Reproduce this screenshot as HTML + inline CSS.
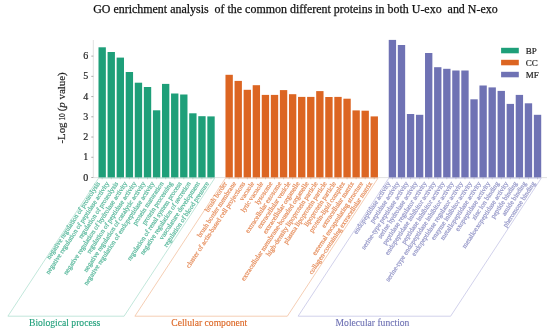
<!DOCTYPE html>
<html><head><meta charset="utf-8"><style>
html,body{margin:0;padding:0;background:#fff;}
body{width:550px;height:333px;overflow:hidden;font-family:"Liberation Serif", serif;}
svg{display:block;will-change:transform;}
</style></head><body>
<svg width="550" height="333" viewBox="0 0 550 333" font-family="Liberation Serif, serif">
<rect width="550" height="333" fill="#fff"/>
<text x="93.2" y="13.3" font-size="12.4" textLength="404.5" lengthAdjust="spacingAndGlyphs" fill="#111" stroke="#111" stroke-width="0.25">GO enrichment analysis&#160; of the common different proteins in both U-exo&#160; and N-exo</text>
<text transform="translate(64.9 143.6) rotate(-90)" font-size="10.9" fill="#222" stroke="#222" stroke-width="0.2">-Log<tspan font-size="7.4">&#160;10&#160;</tspan>(<tspan font-style="italic">p</tspan> value)</text>
<line x1="93.3" y1="40" x2="93.3" y2="177.6" stroke="#d9d9d9" stroke-width="0.8"/>
<line x1="93.3" y1="177.6" x2="547" y2="177.6" stroke="#d9d9d9" stroke-width="0.8"/>
<line x1="91.3" y1="177.50" x2="93.3" y2="177.50" stroke="#8c8c8c" stroke-width="0.7"/>
<text x="88.2" y="180.50" text-anchor="end" font-size="10" fill="#262626" stroke="#262626" stroke-width="0.2">0</text>
<line x1="91.3" y1="157.27" x2="93.3" y2="157.27" stroke="#8c8c8c" stroke-width="0.7"/>
<text x="88.2" y="160.27" text-anchor="end" font-size="10" fill="#262626" stroke="#262626" stroke-width="0.2">1</text>
<line x1="91.3" y1="137.04" x2="93.3" y2="137.04" stroke="#8c8c8c" stroke-width="0.7"/>
<text x="88.2" y="140.04" text-anchor="end" font-size="10" fill="#262626" stroke="#262626" stroke-width="0.2">2</text>
<line x1="91.3" y1="116.81" x2="93.3" y2="116.81" stroke="#8c8c8c" stroke-width="0.7"/>
<text x="88.2" y="119.81" text-anchor="end" font-size="10" fill="#262626" stroke="#262626" stroke-width="0.2">3</text>
<line x1="91.3" y1="96.58" x2="93.3" y2="96.58" stroke="#8c8c8c" stroke-width="0.7"/>
<text x="88.2" y="99.58" text-anchor="end" font-size="10" fill="#262626" stroke="#262626" stroke-width="0.2">4</text>
<line x1="91.3" y1="76.35" x2="93.3" y2="76.35" stroke="#8c8c8c" stroke-width="0.7"/>
<text x="88.2" y="79.35" text-anchor="end" font-size="10" fill="#262626" stroke="#262626" stroke-width="0.2">5</text>
<line x1="91.3" y1="56.12" x2="93.3" y2="56.12" stroke="#8c8c8c" stroke-width="0.7"/>
<text x="88.2" y="59.12" text-anchor="end" font-size="10" fill="#262626" stroke="#262626" stroke-width="0.2">6</text>
<line x1="102.17" y1="177.6" x2="102.17" y2="179.20" stroke="#8c8c8c" stroke-width="0.6"/>
<line x1="111.24" y1="177.6" x2="111.24" y2="179.20" stroke="#8c8c8c" stroke-width="0.6"/>
<line x1="120.31" y1="177.6" x2="120.31" y2="179.20" stroke="#8c8c8c" stroke-width="0.6"/>
<line x1="129.39" y1="177.6" x2="129.39" y2="179.20" stroke="#8c8c8c" stroke-width="0.6"/>
<line x1="138.46" y1="177.6" x2="138.46" y2="179.20" stroke="#8c8c8c" stroke-width="0.6"/>
<line x1="147.53" y1="177.6" x2="147.53" y2="179.20" stroke="#8c8c8c" stroke-width="0.6"/>
<line x1="156.60" y1="177.6" x2="156.60" y2="179.20" stroke="#8c8c8c" stroke-width="0.6"/>
<line x1="165.67" y1="177.6" x2="165.67" y2="179.20" stroke="#8c8c8c" stroke-width="0.6"/>
<line x1="174.74" y1="177.6" x2="174.74" y2="179.20" stroke="#8c8c8c" stroke-width="0.6"/>
<line x1="183.81" y1="177.6" x2="183.81" y2="179.20" stroke="#8c8c8c" stroke-width="0.6"/>
<line x1="192.88" y1="177.6" x2="192.88" y2="179.20" stroke="#8c8c8c" stroke-width="0.6"/>
<line x1="201.95" y1="177.6" x2="201.95" y2="179.20" stroke="#8c8c8c" stroke-width="0.6"/>
<line x1="211.02" y1="177.6" x2="211.02" y2="179.20" stroke="#8c8c8c" stroke-width="0.6"/>
<polygon points="98.50,178.2 7.90,316.2 124.09,316.2 214.69,178.2" fill="none" stroke="#b3e1d2" stroke-width="0.8"/>
<line x1="229.16" y1="177.6" x2="229.16" y2="179.20" stroke="#8c8c8c" stroke-width="0.6"/>
<line x1="238.23" y1="177.6" x2="238.23" y2="179.20" stroke="#8c8c8c" stroke-width="0.6"/>
<line x1="247.30" y1="177.6" x2="247.30" y2="179.20" stroke="#8c8c8c" stroke-width="0.6"/>
<line x1="256.37" y1="177.6" x2="256.37" y2="179.20" stroke="#8c8c8c" stroke-width="0.6"/>
<line x1="265.44" y1="177.6" x2="265.44" y2="179.20" stroke="#8c8c8c" stroke-width="0.6"/>
<line x1="274.51" y1="177.6" x2="274.51" y2="179.20" stroke="#8c8c8c" stroke-width="0.6"/>
<line x1="283.57" y1="177.6" x2="283.57" y2="179.20" stroke="#8c8c8c" stroke-width="0.6"/>
<line x1="292.65" y1="177.6" x2="292.65" y2="179.20" stroke="#8c8c8c" stroke-width="0.6"/>
<line x1="301.72" y1="177.6" x2="301.72" y2="179.20" stroke="#8c8c8c" stroke-width="0.6"/>
<line x1="310.79" y1="177.6" x2="310.79" y2="179.20" stroke="#8c8c8c" stroke-width="0.6"/>
<line x1="319.86" y1="177.6" x2="319.86" y2="179.20" stroke="#8c8c8c" stroke-width="0.6"/>
<line x1="328.93" y1="177.6" x2="328.93" y2="179.20" stroke="#8c8c8c" stroke-width="0.6"/>
<line x1="338.00" y1="177.6" x2="338.00" y2="179.20" stroke="#8c8c8c" stroke-width="0.6"/>
<line x1="347.06" y1="177.6" x2="347.06" y2="179.20" stroke="#8c8c8c" stroke-width="0.6"/>
<line x1="356.14" y1="177.6" x2="356.14" y2="179.20" stroke="#8c8c8c" stroke-width="0.6"/>
<line x1="365.21" y1="177.6" x2="365.21" y2="179.20" stroke="#8c8c8c" stroke-width="0.6"/>
<line x1="374.28" y1="177.6" x2="374.28" y2="179.20" stroke="#8c8c8c" stroke-width="0.6"/>
<polygon points="225.48,178.2 134.88,316.2 287.35,316.2 377.95,178.2" fill="none" stroke="#f2c2a1" stroke-width="0.8"/>
<line x1="392.42" y1="177.6" x2="392.42" y2="179.20" stroke="#8c8c8c" stroke-width="0.6"/>
<line x1="401.49" y1="177.6" x2="401.49" y2="179.20" stroke="#8c8c8c" stroke-width="0.6"/>
<line x1="410.56" y1="177.6" x2="410.56" y2="179.20" stroke="#8c8c8c" stroke-width="0.6"/>
<line x1="419.62" y1="177.6" x2="419.62" y2="179.20" stroke="#8c8c8c" stroke-width="0.6"/>
<line x1="428.69" y1="177.6" x2="428.69" y2="179.20" stroke="#8c8c8c" stroke-width="0.6"/>
<line x1="437.77" y1="177.6" x2="437.77" y2="179.20" stroke="#8c8c8c" stroke-width="0.6"/>
<line x1="446.84" y1="177.6" x2="446.84" y2="179.20" stroke="#8c8c8c" stroke-width="0.6"/>
<line x1="455.91" y1="177.6" x2="455.91" y2="179.20" stroke="#8c8c8c" stroke-width="0.6"/>
<line x1="464.98" y1="177.6" x2="464.98" y2="179.20" stroke="#8c8c8c" stroke-width="0.6"/>
<line x1="474.05" y1="177.6" x2="474.05" y2="179.20" stroke="#8c8c8c" stroke-width="0.6"/>
<line x1="483.12" y1="177.6" x2="483.12" y2="179.20" stroke="#8c8c8c" stroke-width="0.6"/>
<line x1="492.19" y1="177.6" x2="492.19" y2="179.20" stroke="#8c8c8c" stroke-width="0.6"/>
<line x1="501.26" y1="177.6" x2="501.26" y2="179.20" stroke="#8c8c8c" stroke-width="0.6"/>
<line x1="510.33" y1="177.6" x2="510.33" y2="179.20" stroke="#8c8c8c" stroke-width="0.6"/>
<line x1="519.39" y1="177.6" x2="519.39" y2="179.20" stroke="#8c8c8c" stroke-width="0.6"/>
<line x1="528.46" y1="177.6" x2="528.46" y2="179.20" stroke="#8c8c8c" stroke-width="0.6"/>
<line x1="537.53" y1="177.6" x2="537.53" y2="179.20" stroke="#8c8c8c" stroke-width="0.6"/>
<polygon points="388.74,178.2 298.14,316.2 450.61,316.2 541.21,178.2" fill="none" stroke="#c5c5e6" stroke-width="0.8"/>
<rect x="98.50" y="47.30" width="7.35" height="130.10" fill="#1e9f79"/>
<rect x="107.57" y="52.00" width="7.35" height="125.40" fill="#1e9f79"/>
<rect x="116.64" y="57.60" width="7.35" height="119.80" fill="#1e9f79"/>
<rect x="125.71" y="72.00" width="7.35" height="105.40" fill="#1e9f79"/>
<rect x="134.78" y="82.70" width="7.35" height="94.70" fill="#1e9f79"/>
<rect x="143.85" y="87.00" width="7.35" height="90.40" fill="#1e9f79"/>
<rect x="152.92" y="110.30" width="7.35" height="67.10" fill="#1e9f79"/>
<rect x="161.99" y="83.90" width="7.35" height="93.50" fill="#1e9f79"/>
<rect x="171.06" y="93.50" width="7.35" height="83.90" fill="#1e9f79"/>
<rect x="180.13" y="94.50" width="7.35" height="82.90" fill="#1e9f79"/>
<rect x="189.20" y="113.30" width="7.35" height="64.10" fill="#1e9f79"/>
<rect x="198.27" y="116.20" width="7.35" height="61.20" fill="#1e9f79"/>
<rect x="207.34" y="116.40" width="7.35" height="61.00" fill="#1e9f79"/>
<rect x="225.48" y="74.80" width="7.35" height="102.60" fill="#dc6522"/>
<rect x="234.55" y="80.90" width="7.35" height="96.50" fill="#dc6522"/>
<rect x="243.62" y="89.80" width="7.35" height="87.60" fill="#dc6522"/>
<rect x="252.69" y="85.20" width="7.35" height="92.20" fill="#dc6522"/>
<rect x="261.76" y="94.90" width="7.35" height="82.50" fill="#dc6522"/>
<rect x="270.83" y="94.90" width="7.35" height="82.50" fill="#dc6522"/>
<rect x="279.90" y="90.10" width="7.35" height="87.30" fill="#dc6522"/>
<rect x="288.97" y="94.20" width="7.35" height="83.20" fill="#dc6522"/>
<rect x="298.04" y="96.90" width="7.35" height="80.50" fill="#dc6522"/>
<rect x="307.11" y="96.90" width="7.35" height="80.50" fill="#dc6522"/>
<rect x="316.18" y="91.10" width="7.35" height="86.30" fill="#dc6522"/>
<rect x="325.25" y="97.00" width="7.35" height="80.40" fill="#dc6522"/>
<rect x="334.32" y="96.90" width="7.35" height="80.50" fill="#dc6522"/>
<rect x="343.39" y="98.70" width="7.35" height="78.70" fill="#dc6522"/>
<rect x="352.46" y="110.40" width="7.35" height="67.00" fill="#dc6522"/>
<rect x="361.53" y="110.70" width="7.35" height="66.70" fill="#dc6522"/>
<rect x="370.60" y="116.40" width="7.35" height="61.00" fill="#dc6522"/>
<rect x="388.74" y="39.90" width="7.35" height="137.50" fill="#6f72b4"/>
<rect x="397.81" y="45.00" width="7.35" height="132.40" fill="#6f72b4"/>
<rect x="406.88" y="114.00" width="7.35" height="63.40" fill="#6f72b4"/>
<rect x="415.95" y="114.80" width="7.35" height="62.60" fill="#6f72b4"/>
<rect x="425.02" y="53.00" width="7.35" height="124.40" fill="#6f72b4"/>
<rect x="434.09" y="67.20" width="7.35" height="110.20" fill="#6f72b4"/>
<rect x="443.16" y="68.80" width="7.35" height="108.60" fill="#6f72b4"/>
<rect x="452.23" y="70.50" width="7.35" height="106.90" fill="#6f72b4"/>
<rect x="461.30" y="70.50" width="7.35" height="106.90" fill="#6f72b4"/>
<rect x="470.37" y="99.30" width="7.35" height="78.10" fill="#6f72b4"/>
<rect x="479.44" y="85.50" width="7.35" height="91.90" fill="#6f72b4"/>
<rect x="488.51" y="87.40" width="7.35" height="90.00" fill="#6f72b4"/>
<rect x="497.58" y="90.90" width="7.35" height="86.50" fill="#6f72b4"/>
<rect x="506.65" y="103.90" width="7.35" height="73.50" fill="#6f72b4"/>
<rect x="515.72" y="94.90" width="7.35" height="82.50" fill="#6f72b4"/>
<rect x="524.79" y="103.30" width="7.35" height="74.10" fill="#6f72b4"/>
<rect x="533.86" y="114.80" width="7.35" height="62.60" fill="#6f72b4"/>
<g font-size="6.82" stroke-width="0.22" opacity="0.72"><text x="100.27" y="183.50" text-anchor="end" transform="rotate(-56.5 100.27 183.50)" fill="#1e9f79" stroke="#1e9f79">negative regulation of proteolysis</text><text x="109.34" y="183.50" text-anchor="end" transform="rotate(-56.5 109.34 183.50)" fill="#1e9f79" stroke="#1e9f79">negative regulation of peptidase activity</text><text x="118.41" y="183.50" text-anchor="end" transform="rotate(-56.5 118.41 183.50)" fill="#1e9f79" stroke="#1e9f79">regulation of proteolysis</text><text x="127.49" y="183.50" text-anchor="end" transform="rotate(-56.5 127.49 183.50)" fill="#1e9f79" stroke="#1e9f79">negative regulation of hydrolase activity</text><text x="136.56" y="183.50" text-anchor="end" transform="rotate(-56.5 136.56 183.50)" fill="#1e9f79" stroke="#1e9f79">regulation of peptidase activity</text><text x="145.62" y="183.50" text-anchor="end" transform="rotate(-56.5 145.62 183.50)" fill="#1e9f79" stroke="#1e9f79">negative regulation of catalytic activity</text><text x="154.70" y="183.50" text-anchor="end" transform="rotate(-56.5 154.70 183.50)" fill="#1e9f79" stroke="#1e9f79">negative regulation of endopeptidase activity</text><text x="163.77" y="183.50" text-anchor="end" transform="rotate(-56.5 163.77 183.50)" fill="#1e9f79" stroke="#1e9f79">protein maturation</text><text x="172.84" y="183.50" text-anchor="end" transform="rotate(-56.5 172.84 183.50)" fill="#1e9f79" stroke="#1e9f79">protein processing</text><text x="181.91" y="183.50" text-anchor="end" transform="rotate(-56.5 181.91 183.50)" fill="#1e9f79" stroke="#1e9f79">regulation of renal system process</text><text x="190.97" y="183.50" text-anchor="end" transform="rotate(-56.5 190.97 183.50)" fill="#1e9f79" stroke="#1e9f79">negative regulation of secretion</text><text x="200.05" y="183.50" text-anchor="end" transform="rotate(-56.5 200.05 183.50)" fill="#1e9f79" stroke="#1e9f79">vasculature development</text><text x="209.12" y="183.50" text-anchor="end" transform="rotate(-56.5 209.12 183.50)" fill="#1e9f79" stroke="#1e9f79">regulation of blood pressure</text><text x="227.26" y="183.50" text-anchor="end" transform="rotate(-56.5 227.26 183.50)" fill="#dc6522" stroke="#dc6522">brush border</text><text x="236.33" y="183.50" text-anchor="end" transform="rotate(-56.5 236.33 183.50)" fill="#dc6522" stroke="#dc6522">brush border membrane</text><text x="245.40" y="183.50" text-anchor="end" transform="rotate(-56.5 245.40 183.50)" fill="#dc6522" stroke="#dc6522">cluster of actin-based cell projections</text><text x="254.47" y="183.50" text-anchor="end" transform="rotate(-56.5 254.47 183.50)" fill="#dc6522" stroke="#dc6522">vacuole</text><text x="263.54" y="183.50" text-anchor="end" transform="rotate(-56.5 263.54 183.50)" fill="#dc6522" stroke="#dc6522">lytic vacuole</text><text x="272.61" y="183.50" text-anchor="end" transform="rotate(-56.5 272.61 183.50)" fill="#dc6522" stroke="#dc6522">lysosome</text><text x="281.68" y="183.50" text-anchor="end" transform="rotate(-56.5 281.68 183.50)" fill="#dc6522" stroke="#dc6522">extracellular exosome</text><text x="290.75" y="183.50" text-anchor="end" transform="rotate(-56.5 290.75 183.50)" fill="#dc6522" stroke="#dc6522">extracellular vesicle</text><text x="299.82" y="183.50" text-anchor="end" transform="rotate(-56.5 299.82 183.50)" fill="#dc6522" stroke="#dc6522">extracellular organelle</text><text x="308.89" y="183.50" text-anchor="end" transform="rotate(-56.5 308.89 183.50)" fill="#dc6522" stroke="#dc6522">extracellular membrane-bounded organelle</text><text x="317.96" y="183.50" text-anchor="end" transform="rotate(-56.5 317.96 183.50)" fill="#dc6522" stroke="#dc6522">high-density lipoprotein particle</text><text x="327.03" y="183.50" text-anchor="end" transform="rotate(-56.5 327.03 183.50)" fill="#dc6522" stroke="#dc6522">plasma lipoprotein particle</text><text x="336.10" y="183.50" text-anchor="end" transform="rotate(-56.5 336.10 183.50)" fill="#dc6522" stroke="#dc6522">lipoprotein particle</text><text x="345.17" y="183.50" text-anchor="end" transform="rotate(-56.5 345.17 183.50)" fill="#dc6522" stroke="#dc6522">protein-lipid complex</text><text x="354.24" y="183.50" text-anchor="end" transform="rotate(-56.5 354.24 183.50)" fill="#dc6522" stroke="#dc6522">extracellular matrix</text><text x="363.31" y="183.50" text-anchor="end" transform="rotate(-56.5 363.31 183.50)" fill="#dc6522" stroke="#dc6522">external encapsulating structure</text><text x="372.38" y="183.50" text-anchor="end" transform="rotate(-56.5 372.38 183.50)" fill="#dc6522" stroke="#dc6522">collagen-containing extracellular matrix</text><text x="390.52" y="183.50" text-anchor="end" transform="rotate(-56.5 390.52 183.50)" fill="#6f72b4" stroke="#6f72b4">endopeptidase activity</text><text x="399.59" y="183.50" text-anchor="end" transform="rotate(-56.5 399.59 183.50)" fill="#6f72b4" stroke="#6f72b4">peptidase activity</text><text x="408.66" y="183.50" text-anchor="end" transform="rotate(-56.5 408.66 183.50)" fill="#6f72b4" stroke="#6f72b4">serine-type peptidase activity</text><text x="417.73" y="183.50" text-anchor="end" transform="rotate(-56.5 417.73 183.50)" fill="#6f72b4" stroke="#6f72b4">serine hydrolase activity</text><text x="426.80" y="183.50" text-anchor="end" transform="rotate(-56.5 426.80 183.50)" fill="#6f72b4" stroke="#6f72b4">peptidase regulator activity</text><text x="435.87" y="183.50" text-anchor="end" transform="rotate(-56.5 435.87 183.50)" fill="#6f72b4" stroke="#6f72b4">endopeptidase inhibitor activity</text><text x="444.94" y="183.50" text-anchor="end" transform="rotate(-56.5 444.94 183.50)" fill="#6f72b4" stroke="#6f72b4">peptidase inhibitor activity</text><text x="454.01" y="183.50" text-anchor="end" transform="rotate(-56.5 454.01 183.50)" fill="#6f72b4" stroke="#6f72b4">serine-type endopeptidase inhibitor activity</text><text x="463.08" y="183.50" text-anchor="end" transform="rotate(-56.5 463.08 183.50)" fill="#6f72b4" stroke="#6f72b4">endopeptidase regulator activity</text><text x="472.15" y="183.50" text-anchor="end" transform="rotate(-56.5 472.15 183.50)" fill="#6f72b4" stroke="#6f72b4">enzyme inhibitor activity</text><text x="481.22" y="183.50" text-anchor="end" transform="rotate(-56.5 481.22 183.50)" fill="#6f72b4" stroke="#6f72b4">metallopeptidase activity</text><text x="490.29" y="183.50" text-anchor="end" transform="rotate(-56.5 490.29 183.50)" fill="#6f72b4" stroke="#6f72b4">exopeptidase activity</text><text x="499.36" y="183.50" text-anchor="end" transform="rotate(-56.5 499.36 183.50)" fill="#6f72b4" stroke="#6f72b4">zinc ion binding</text><text x="508.43" y="183.50" text-anchor="end" transform="rotate(-56.5 508.43 183.50)" fill="#6f72b4" stroke="#6f72b4">metalloexopeptidase activity</text><text x="517.50" y="183.50" text-anchor="end" transform="rotate(-56.5 517.50 183.50)" fill="#6f72b4" stroke="#6f72b4">peptide binding</text><text x="526.56" y="183.50" text-anchor="end" transform="rotate(-56.5 526.56 183.50)" fill="#6f72b4" stroke="#6f72b4">amide binding</text><text x="535.63" y="183.50" text-anchor="end" transform="rotate(-56.5 535.63 183.50)" fill="#6f72b4" stroke="#6f72b4">pheromone binding</text></g>
<rect x="501.1" y="47.8" width="17.7" height="5.5" fill="#1e9f79"/>
<text x="525.8" y="53.6" font-size="9" fill="#222" stroke="#222" stroke-width="0.2">BP</text>
<rect x="501.1" y="59.8" width="17.7" height="5.5" fill="#dc6522"/>
<text x="525.8" y="65.6" font-size="9" fill="#222" stroke="#222" stroke-width="0.2">CC</text>
<rect x="501.1" y="71.8" width="17.7" height="5.5" fill="#6f72b4"/>
<text x="525.8" y="77.6" font-size="9" fill="#222" stroke="#222" stroke-width="0.2">MF</text>
<text x="29" y="326.3" font-size="9.6" fill="#1e9f79" stroke="#1e9f79" stroke-width="0.12">Biological process</text>
<text x="171.3" y="326.3" font-size="9.6" fill="#dc6522" stroke="#dc6522" stroke-width="0.12">Cellular component</text>
<text x="335.6" y="326.3" font-size="9.6" fill="#6f72b4" stroke="#6f72b4" stroke-width="0.12">Molecular function</text>
</svg>
</body></html>
